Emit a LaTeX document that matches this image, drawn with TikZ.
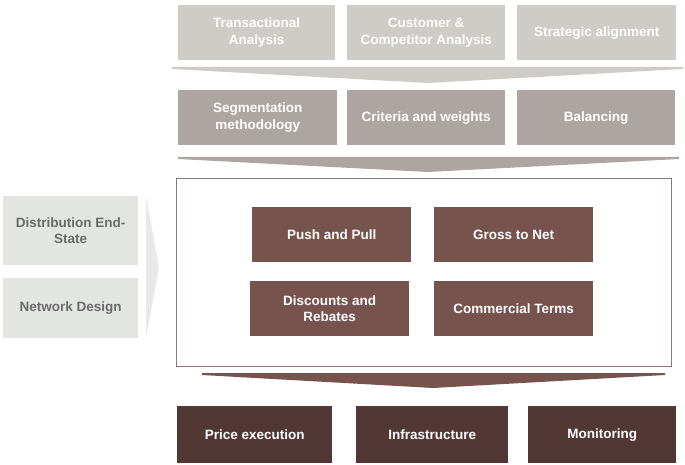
\documentclass[tikz,border=0pt]{standalone}
\usepackage{fontspec}
\setmainfont{Liberation Sans}
\definecolor{cTop}{HTML}{CFCBC6}
\definecolor{cMid}{HTML}{ADA5A2}
\definecolor{cIn}{HTML}{77534D}
\definecolor{cBot}{HTML}{523834}
\definecolor{cLeft}{HTML}{E3E5E3}
\definecolor{cLeftTxt}{HTML}{6A6A6A}
\definecolor{cFrame}{HTML}{8F7773}
\definecolor{cLeftArr}{HTML}{E8E9E8}
\begin{document}
\begin{tikzpicture}[x=1pt,y=-1pt,
  box/.style={rectangle, inner sep=0pt, align=center, text=white,
    font=\fontsize{13.5}{16.5}\selectfont\bfseries, anchor=north west},
  topbox/.style={box, fill=cTop},
  midbox/.style={box, fill=cMid},
  inbox/.style={box, fill=cIn},
  botbox/.style={box, fill=cBot},
  leftbox/.style={box, fill=cLeft, text=cLeftTxt}]
\useasboundingbox (0,0) rectangle (685,465);
% top row
\node[topbox, minimum width=157pt, minimum height=55pt] (t1) at (178,5) {Transactional\\Analysis};
\node[topbox, minimum width=158pt, minimum height=55pt] (t2) at (347,5) {Customer \&\\Competitor Analysis};
\node[topbox, minimum width=159pt, minimum height=55pt] (t3) at (517,5) {Strategic alignment};
% chevron 1
\fill[cTop] (172,67) -- (683,67) -- (683,69) -- (428,83) -- (172,69) -- cycle;
% second row
\node[midbox, minimum width=159pt, minimum height=55pt] (m1) at (178,90) {Segmentation\\methodology};
\node[midbox, minimum width=158pt, minimum height=55pt] (m2) at (347,90) {Criteria and weights};
\node[midbox, minimum width=158pt, minimum height=55pt] (m3) at (517,90) {Balancing};
% chevron 2
\fill[cMid] (178,157) -- (679,157) -- (679,159) -- (428,172) -- (178,159) -- cycle;
% frame
\node[draw=cFrame, line width=1pt, rectangle, inner sep=0pt, minimum width=495pt, minimum height=188pt, anchor=north west] (frame) at (176,178) {};
% inner boxes
\node[inbox, minimum width=159pt, minimum height=55pt] (i1) at (252,207) {Push and Pull};
\node[inbox, minimum width=159pt, minimum height=55pt] (i2) at (434,207) {Gross to Net};
\node[inbox, minimum width=159pt, minimum height=55pt] (i3) at (250,281) {Discounts and\\Rebates};
\node[inbox, minimum width=159pt, minimum height=55pt] (i4) at (434,281) {Commercial Terms};
% chevron 3
\fill[cIn] (202,373) -- (665,373) -- (665,375) -- (433,388) -- (202,375) -- cycle;
% bottom row
\node[botbox, minimum width=155pt, minimum height=57pt] (b1) at (177,406) {Price execution};
\node[botbox, minimum width=152pt, minimum height=57pt] (b2) at (356,406) {Infrastructure};
\node[botbox, minimum width=148pt, minimum height=57pt] (b3) at (528,406) {Monitoring};
% left boxes
\node[leftbox, minimum width=135pt, minimum height=69pt] (l1) at (3,196) {Distribution End-\\State};
\node[leftbox, minimum width=135pt, minimum height=60pt] (l2) at (3,278) {Network Design};
\fill[cLeftArr] (146,196) -- (159,267) -- (146,338) -- cycle;
\end{tikzpicture}
\end{document}
